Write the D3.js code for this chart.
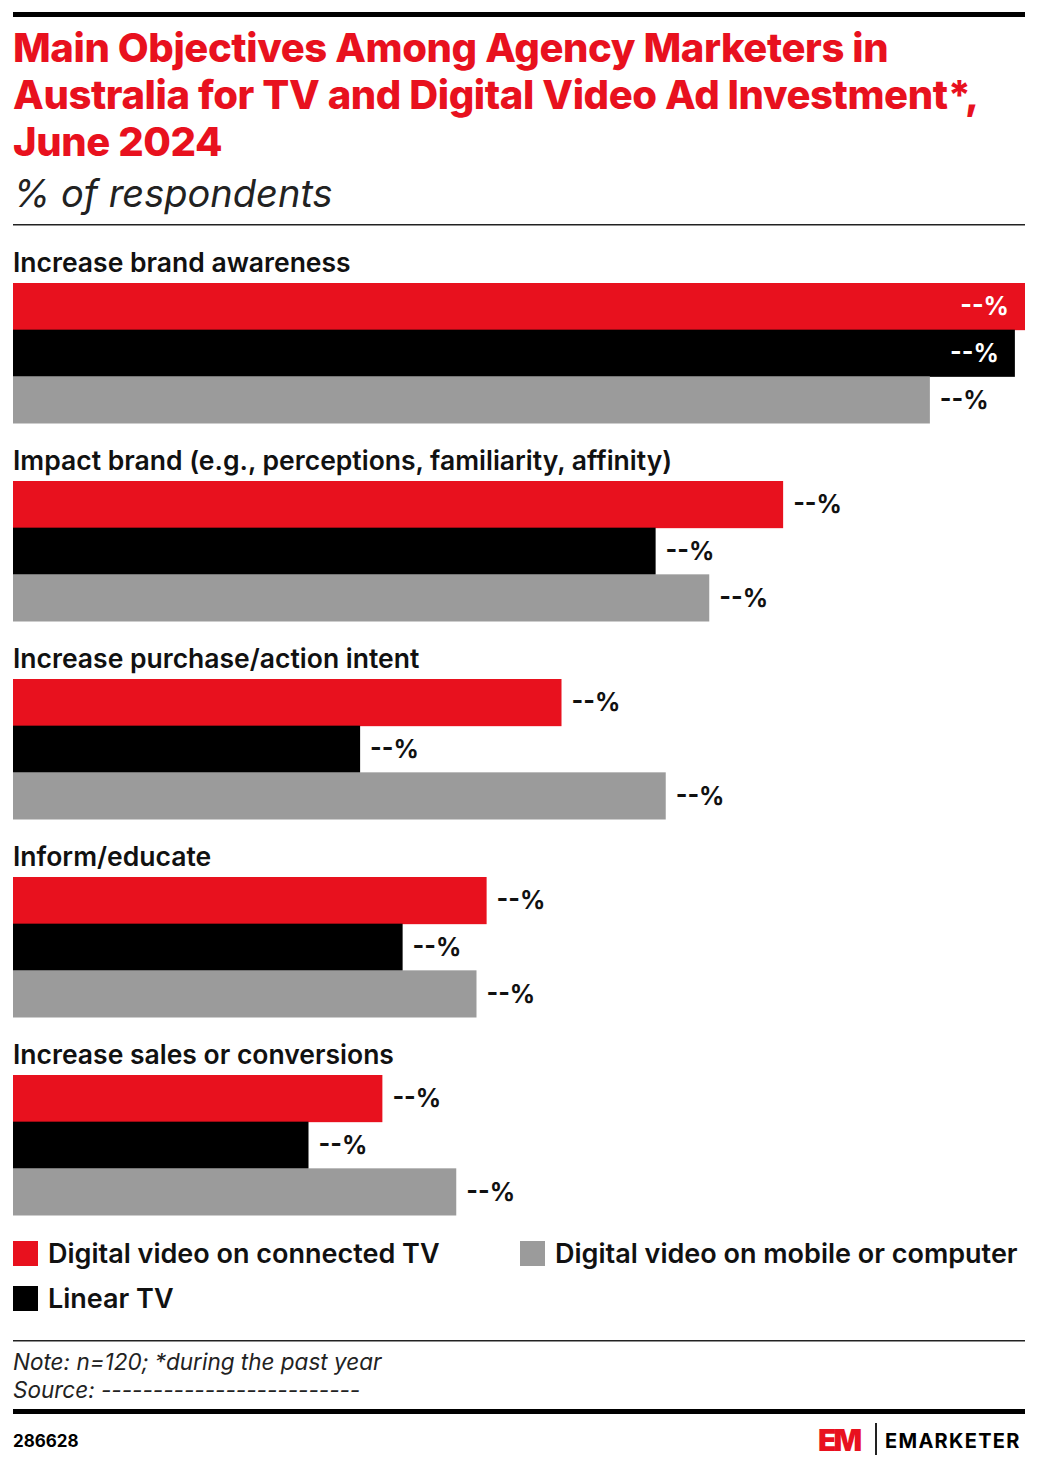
<!DOCTYPE html>
<html><head><meta charset="utf-8">
<script src="https://cdn.jsdelivr.net/npm/d3@7"></script>
<style>body{margin:0;background:#fff}svg{font-family:Inter,"Noto Sans",sans-serif}</style>
</head><body>
<script>
const categories=["Increase brand awareness","Impact brand (e.g., perceptions, familiarity, affinity)","Increase purchase/action intent","Inform/educate","Increase sales or conversions"];
const seriesNames=["Digital video on connected TV","Linear TV","Digital video on mobile or computer"];
const colors=["#e8111e","#000000","#9b9b9b"];
const connectedTV=[100,76.1,54.2,46.8,36.5];
const linearTV=[99,63.5,34.3,38.5,29.2];
const mobileComputer=[90.6,68.8,64.5,45.8,43.8];
const series=[connectedTV,linearTV,mobileComputer];
const W=1038,H=1469,L=13,R=1025;
const svg=d3.select("body").append("svg").attr("width",W).attr("height",H);
svg.append("rect").attr("x",L).attr("y",12).attr("width",R-L).attr("height",5);
["Main Objectives Among Agency Marketers in","Australia for TV and Digital Video Ad Investment*,","June 2024"].forEach((t,i)=>
 svg.append("text").attr("x",L).attr("y",62+i*47).attr("font-size",40).attr("font-weight",800).attr("fill","#e8111e").attr("letter-spacing",-0.4).text(t));
svg.append("text").attr("x",L).attr("y",207).attr("font-size",38).attr("font-style","italic").attr("fill","#222").text("% of respondents");
svg.append("rect").attr("x",L).attr("y",224).attr("width",R-L).attr("height",1.5).attr("fill","#222");
const x=d3.scaleLinear().domain([0,100]).range([L,R]);
const gy=d3.scaleBand().domain(categories).range([283,283+198*5]).paddingInner(0);
const by=d3.scaleBand().domain([0,1,2]).range([0,140]);
categories.forEach((c,ci)=>{
 const g=svg.append("g").attr("transform",`translate(0,${gy(c)})`);
 g.append("text").attr("x",L).attr("y",-11).attr("font-size",26.5).attr("font-weight",600).attr("fill","#111").text(c);
 series.forEach((s,si)=>{
  const v=s[ci],xe=x(v);
  g.append("rect").attr("x",x(0)).attr("y",by(si)).attr("width",xe-x(0)).attr("height",by.bandwidth()+0.5).attr("fill",colors[si]);
  const inside=xe>960;
  g.append("text").attr("x",inside?xe-16:xe+10).attr("y",by(si)+by.bandwidth()/2+9).attr("text-anchor",inside?"end":"start")
   .attr("font-size",25).attr("font-weight",700).attr("fill",inside?"#fff":"#111").text("--%");
 });
});
const leg=[[0,L,1241],[2,520,1241],[1,L,1286]];
leg.forEach(([si,lx,ly])=>{
 svg.append("rect").attr("x",lx).attr("y",ly).attr("width",25).attr("height",25).attr("fill",colors[si]);
 svg.append("text").attr("x",lx+35).attr("y",ly+22).attr("font-size",27).attr("font-weight",600).attr("fill","#111").text(seriesNames[si]);
});
svg.append("rect").attr("x",L).attr("y",1340).attr("width",R-L).attr("height",1.5).attr("fill","#222");
svg.append("text").attr("x",L).attr("y",1370).attr("font-size",22.5).attr("font-style","italic").attr("fill","#222").text("Note: n=120; *during the past year");
svg.append("text").attr("x",L).attr("y",1398).attr("font-size",22.5).attr("font-style","italic").attr("fill","#222").text("Source: -------------------------");
svg.append("rect").attr("x",L).attr("y",1409).attr("width",R-L).attr("height",5);
svg.append("text").attr("x",L).attr("y",1447).attr("font-size",17).attr("font-weight",700).text("286628");
svg.append("text").attr("x",818).attr("y",1451).attr("font-size",30).attr("font-weight",900).attr("fill","#e8111e").attr("letter-spacing",-3).text("EM");
svg.append("rect").attr("x",875).attr("y",1423).attr("width",2).attr("height",32).attr("fill","#222");
svg.append("text").attr("x",885).attr("y",1448).attr("font-size",20).attr("font-weight",700).attr("letter-spacing",1.3).text("EMARKETER");
</script></body></html>
